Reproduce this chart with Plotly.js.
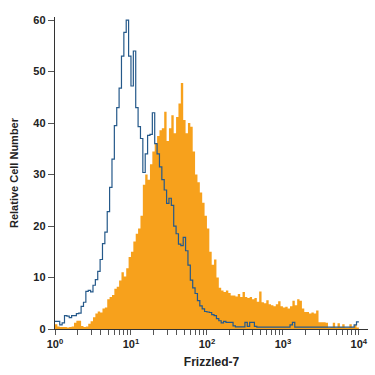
<!DOCTYPE html>
<html>
<head>
<meta charset="utf-8">
<script src="https://cdn.plot.ly/plotly-3.0.1.min.js"></script>
<style>html,body{margin:0;padding:0;background:#fff;}#chart{width:375px;height:375px;}</style>
</head>
<body>
<div id="chart"></div>
<script>
// Histogram bins: 32 bins per decade, from 10^0 to 10^4 (128 bins)
var binsPerDecade = 32;
// Isotype control (blue outline)
var isotype = [
 1.5,1.5,0.8,1.2,2.6,2.5,2.2,2.6,2.6,3.0,3.1,4.4,5.2,7.3,7.5,7.2,
 8.5,9.6,11.2,13.5,16.6,18.8,22.8,27.5,33,39.5,43,46.8,53,57.6,60,53,
 47.2,54,43,39.3,37,30.4,34,37.6,37.8,42,36,34,31.5,29,27,24.4,
 25.4,24,20,18.5,16.5,16.2,17.8,15.2,12.4,9.5,8,6.9,5.5,4.5,3.9,3.4,
 3.3,3.2,2.8,2.6,2.0,1.6,1.2,1.5,1.3,1.3,1.3,0.6,0.4,0.4,0.4,0.4,
 1.3,0.5,1.3,1.3,0.5,0.35,0.35,0.35,0.35,0.35,0.35,0.35,0.35,0.35,0.35,0.35,
 0.35,0.35,0.35,0.8,1.3,0.35,0.35,0.35,0.35,0.35,0.35,0.35,0.35,0.35,0.35,0.35,
 0.35,0.35,0.35,0.35,0.35,0.35,0.35,0.35,0.35,0.35,0.35,0.35,0.35,0.35,0.8,1.4
];
// Frizzled-7 stained (orange filled)
var frizzled7 = [
 0.9,0.5,0.4,0.4,0.4,0.3,0.4,0.5,1.2,1.6,1.6,0.6,0.4,0.5,1.0,1.5,
 2.3,3.0,3.4,3.2,4.0,4.2,5.8,6.2,6.6,7.8,8.2,9.4,11,10.2,11.8,14,
 15,17,18.5,19.5,22,28,30,29,32,34.5,36,37.5,38.6,39,42.2,36.5,
 39,41.5,38,41.2,43.8,47.8,40.6,38,40,39.3,34.5,30,28.5,26.5,24.5,22,
 19.5,15,12.5,13.5,10,8,7.5,7.2,7.5,7.0,6.5,6.5,6.3,6.8,6.2,7.2,
 6.2,6.0,6.2,5.8,6.0,5.3,7.3,5.2,5.0,5.6,4.8,4.6,4.4,4.8,5.4,4.4,
 4.2,4.3,4.0,4.4,5.5,4.6,5.8,5.5,4.0,3.3,3.3,3.0,3.2,3.0,3.6,1.3,
 1.3,1.3,1.2,0.3,0.4,1.2,0.3,1.1,0.4,0.9,0.3,0.3,0.9,0.3,0.8,0.3
];
var yTickVals = [0,10,20,30,40,50,60];
var decadeLabels = ['10<sup>0</sup>','10<sup>1</sup>','10<sup>2</sup>','10<sup>3</sup>','10<sup>4</sup>'];

function edges(n){ var e=[]; for(var i=0;i<=n;i++){ e.push(Math.pow(10, i/binsPerDecade)); } return e; }
function stepY(v){ return v.concat([v[v.length-1]]); }

var xTickVals=[], xTickText=[];
for (var d=0; d<4; d++){
  for (var m=1; m<10; m++){
    xTickVals.push(m*Math.pow(10,d));
    xTickText.push(m===1 ? decadeLabels[d] : '');
  }
}
xTickVals.push(1e4); xTickText.push(decadeLabels[4]);

var fam = 'Liberation Sans, Arial, sans-serif';
var traces = [
  { x: edges(frizzled7.length), y: stepY(frizzled7), type:'scatter', mode:'lines',
    line:{shape:'hv', width:0, color:'#F7A11C'}, fill:'tozeroy', fillcolor:'#F7A11C', hoverinfo:'skip' },
  { x: edges(isotype.length), y: stepY(isotype), type:'scatter', mode:'lines',
    line:{shape:'hv', width:1.2, color:'#25598a'}, hoverinfo:'skip' }
];
var layout = {
  width:375, height:375,
  margin:{l:55, r:7, t:17, b:46},
  paper_bgcolor:'#fff', plot_bgcolor:'#fff',
  showlegend:false,
  font:{family:fam, size:11, color:'#222'},
  xaxis:{ type:'log', range:[0,4.12], showgrid:false, zeroline:false,
    showline:true, linecolor:'#333', linewidth:1.2,
    tickmode:'array', tickvals:xTickVals, ticktext:xTickText,
    ticks:'outside', ticklen:5, tickcolor:'#555', tickwidth:1,
    tickfont:{family:fam, size:11, color:'#222', weight:'bold'},
    title:{text:'Frizzled-7', font:{family:fam, size:12, color:'#222', weight:'bold'}, standoff:8} },
  yaxis:{ range:[0,60.6], showgrid:false, zeroline:false,
    showline:true, linecolor:'#333', linewidth:1.2,
    tickmode:'array', tickvals:yTickVals,
    ticks:'outside', ticklen:6, tickcolor:'#555', tickwidth:1,
    tickfont:{family:fam, size:11, color:'#222', weight:'bold'},
    title:{text:'Relative Cell Number', font:{family:fam, size:11, color:'#222', weight:'bold'}, standoff:12} }
};
Plotly.newPlot('chart', traces, layout, {staticPlot:true, displayModeBar:false});
</script>
</body>
</html>
